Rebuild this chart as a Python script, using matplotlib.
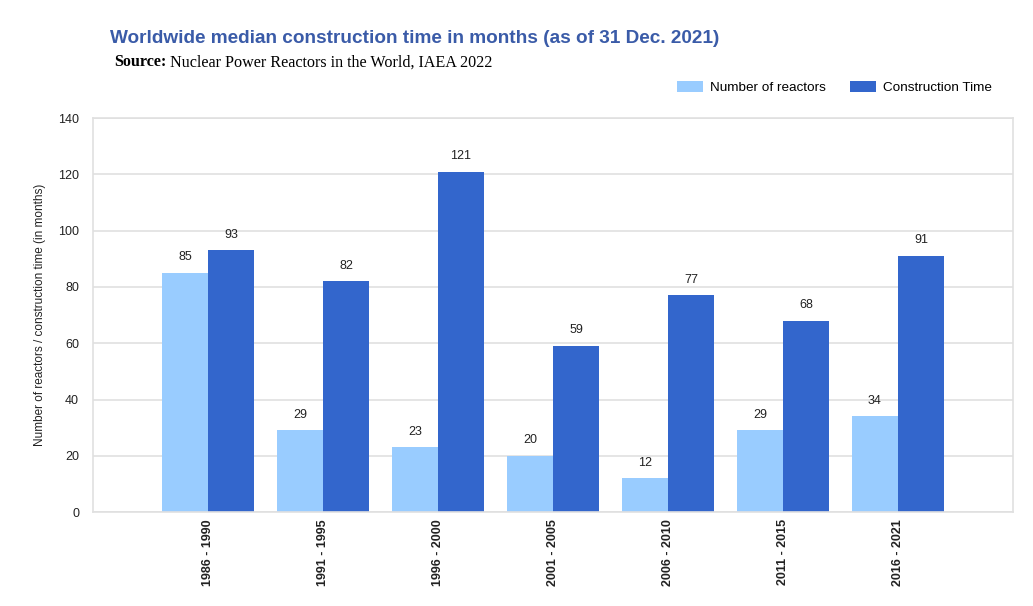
import matplotlib.pyplot as plt
import numpy as np

periods = ['1986 - 1990', '1991 - 1995', '1996 - 2000', '2001 - 2005',
           '2006 - 2010', '2011 - 2015', '2016 - 2021']
reactors = [85, 29, 23, 20, 12, 29, 34]
constr_time = [93, 82, 121, 59, 77, 68, 91]

plt.rcParams['font.family'] = ['Liberation Sans', 'DejaVu Sans']

fig = plt.figure(figsize=(10.33, 6.06), dpi=100)
ax = fig.add_axes([0.090, 0.155, 0.8906, 0.650])

x = np.arange(len(periods))
w = 0.4
b1 = ax.bar(x - w / 2, reactors, w, color='#99ccff', label='Number of reactors', zorder=2)
b2 = ax.bar(x + w / 2, constr_time, w, color='#3366cc', label='Construction Time', zorder=2)

for bars in (b1, b2):
    for r in bars:
        ax.annotate(str(int(r.get_height())), (r.get_x() + r.get_width() / 2, r.get_height()),
                    xytext=(0, 7), textcoords='offset points', ha='center', va='bottom',
                    fontsize=9, color='#222222')

ax.set_xlim(-1, 7)
ax.set_ylim(0, 140)
ax.set_yticks(range(0, 141, 20))
ax.set_xticks(x)
ax.set_xticklabels(periods, rotation=90, fontweight='bold', fontsize=9)
ax.tick_params(axis='both', length=0, labelsize=9, colors='#222222')
ax.tick_params(axis='y', pad=10)
ax.tick_params(axis='x', pad=5)
ax.grid(axis='y', color='#e0e0e0', linewidth=1.2, zorder=0)
for s in ax.spines.values():
    s.set_color('#e0e0e0')
    s.set_linewidth(1.2)
ax.set_ylabel('Number of reactors / construction time (in months)', fontsize=8.5,
              color='#222222', labelpad=9)

fig.text(0.1065, 0.936, 'Worldwide median construction time in months (as of 31 Dec. 2021)',
         fontsize=13.7, fontweight='bold', color='#3a5ba8', va='center')
fig.text(0.111, 0.897, 'Source:', fontsize=11.6, fontweight='bold', family='Liberation Serif',
         va='center')
fig.text(0.165, 0.897, 'Nuclear Power Reactors in the World, IAEA 2022', fontsize=11.6,
         family='Liberation Serif', va='center')

fig.legend(loc='center right', bbox_to_anchor=(0.972, 0.855), ncol=2, frameon=False,
           fontsize=9.7, handlelength=1.9, handleheight=0.9, columnspacing=1.8, handletextpad=0.55)

fig.savefig('out.png', dpi=100)
